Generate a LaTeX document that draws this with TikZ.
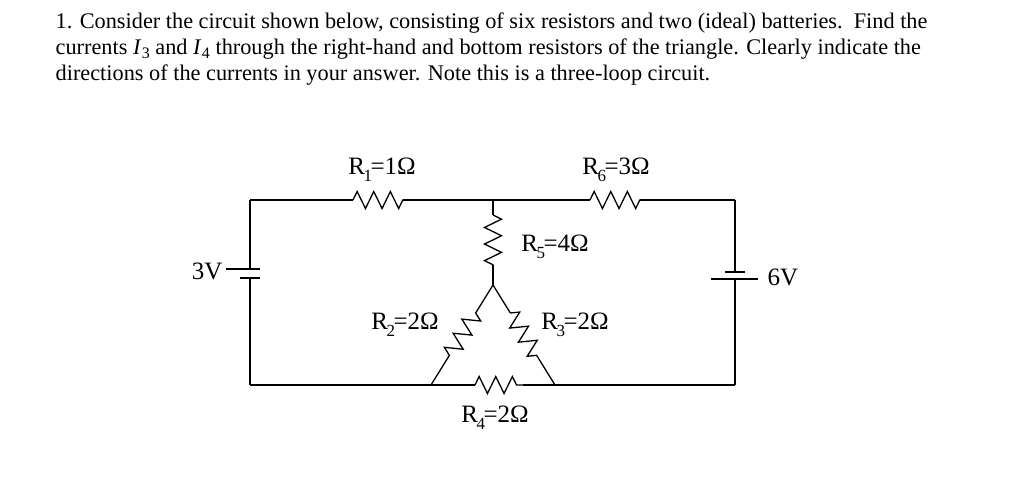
\documentclass[tikz,border=0pt]{standalone}
\usepackage{fontspec}
\setmainfont{Liberation Serif}
\usetikzlibrary{decorations.pathmorphing,calc}
\newcommand{\rl}[2]{R\kern-1.5pt\raisebox{-7pt}{\fontsize{17}{17}\selectfont #1}\kern-1.5pt=#2Ω}
\newcommand{\cur}[1]{\textit{I}\kern0.5pt\raisebox{-4pt}{\fontsize{16}{16}\selectfont #1}}
\begin{document}
\begin{tikzpicture}[x=1pt,y=-1pt,line width=1.3pt,
  res/.style={decorate,decoration={zigzag,segment length=16.6pt,amplitude=8.5pt}},
  lbl/.style={font=\fontsize{25}{26}\selectfont,inner sep=0pt}]
\useasboundingbox (0,0) rectangle (1024,482);
\node[anchor=north west,align=left,inner sep=0pt,font=\fontsize{22.3}{26}\selectfont] (txt) at (55,12) {1. Consider the circuit shown below, consisting of six resistors and two (ideal) batteries.\ \ Find the\\ currents \cur{3} and \cur{4} through the right-hand and bottom resistors of the triangle. Clearly indicate the\\ directions of the currents in your answer. Note this is a three-loop circuit.};
\coordinate (tl) at (250,200); \coordinate (bl) at (250,385);
\coordinate (tr) at (735,200); \coordinate (br) at (735,385);
\coordinate (j) at (493,200);
\coordinate (r1a) at (353,200); \coordinate (r1b) at (403,200);
\coordinate (r6a) at (590,200); \coordinate (r6b) at (640,200);
\coordinate (r5a) at (493,215); \coordinate (r5b) at (493,265);
\coordinate (ap) at (493,285);
\coordinate (tbl) at (431,385); \coordinate (tbr) at (555,385);
\coordinate (r4a) at (475,385); \coordinate (r4b) at (523,385);
\coordinate (r2a) at ($(ap)!0.28!(tbl)$); \coordinate (r2b) at ($(ap)!0.72!(tbl)$);
\coordinate (r3a) at ($(ap)!0.28!(tbr)$); \coordinate (r3b) at ($(ap)!0.72!(tbr)$);
\coordinate (b1t) at (250,269); \coordinate (b1b) at (250,278);
\draw (tl) -- (b1t); \draw (b1b) -- (bl);
\draw (226,269) -- (260,269); \draw (240,278) -- (260,278);
\coordinate (b2t) at (735,272); \coordinate (b2b) at (735,279);
\draw (tr) -- (b2t); \draw (b2b) -- (br);
\draw (725,272) -- (745,272); \draw (711,279) -- (758,279);
\draw (tl) -- (r1a); \draw[res] (r1a) -- (r1b); \draw (r1b) -- (r6a);
\draw[res] (r6a) -- (r6b); \draw (r6b) -- (tr);
\draw (j) -- (r5a); \draw[res] (r5a) -- (r5b); \draw (r5b) -- (ap);
\draw (ap) -- (r2a); \draw[res] (r2a) -- (r2b); \draw (r2b) -- (tbl);
\draw (ap) -- (r3a); \draw[res] (r3a) -- (r3b); \draw (r3b) -- (tbr);
\draw (bl) -- (r4a); \draw[res] (r4a) -- (r4b); \draw (r4b) -- (br);
\node[lbl] (l1) at (382,170) {\rl{1}{1}};
\node[lbl] (l6) at (616,170) {\rl{6}{3}};
\node[lbl] (l5) at (555,247) {\rl{5}{4}};
\node[lbl] (l2) at (405,325) {\rl{2}{2}};
\node[lbl] (l3) at (575,325) {\rl{3}{2}};
\node[lbl] (l4) at (495,418) {\rl{4}{2}};
\node[lbl,anchor=east] (v3) at (223,271) {3V};
\node[lbl,anchor=west] (v6) at (767,277) {6V};
\end{tikzpicture}
\end{document}
